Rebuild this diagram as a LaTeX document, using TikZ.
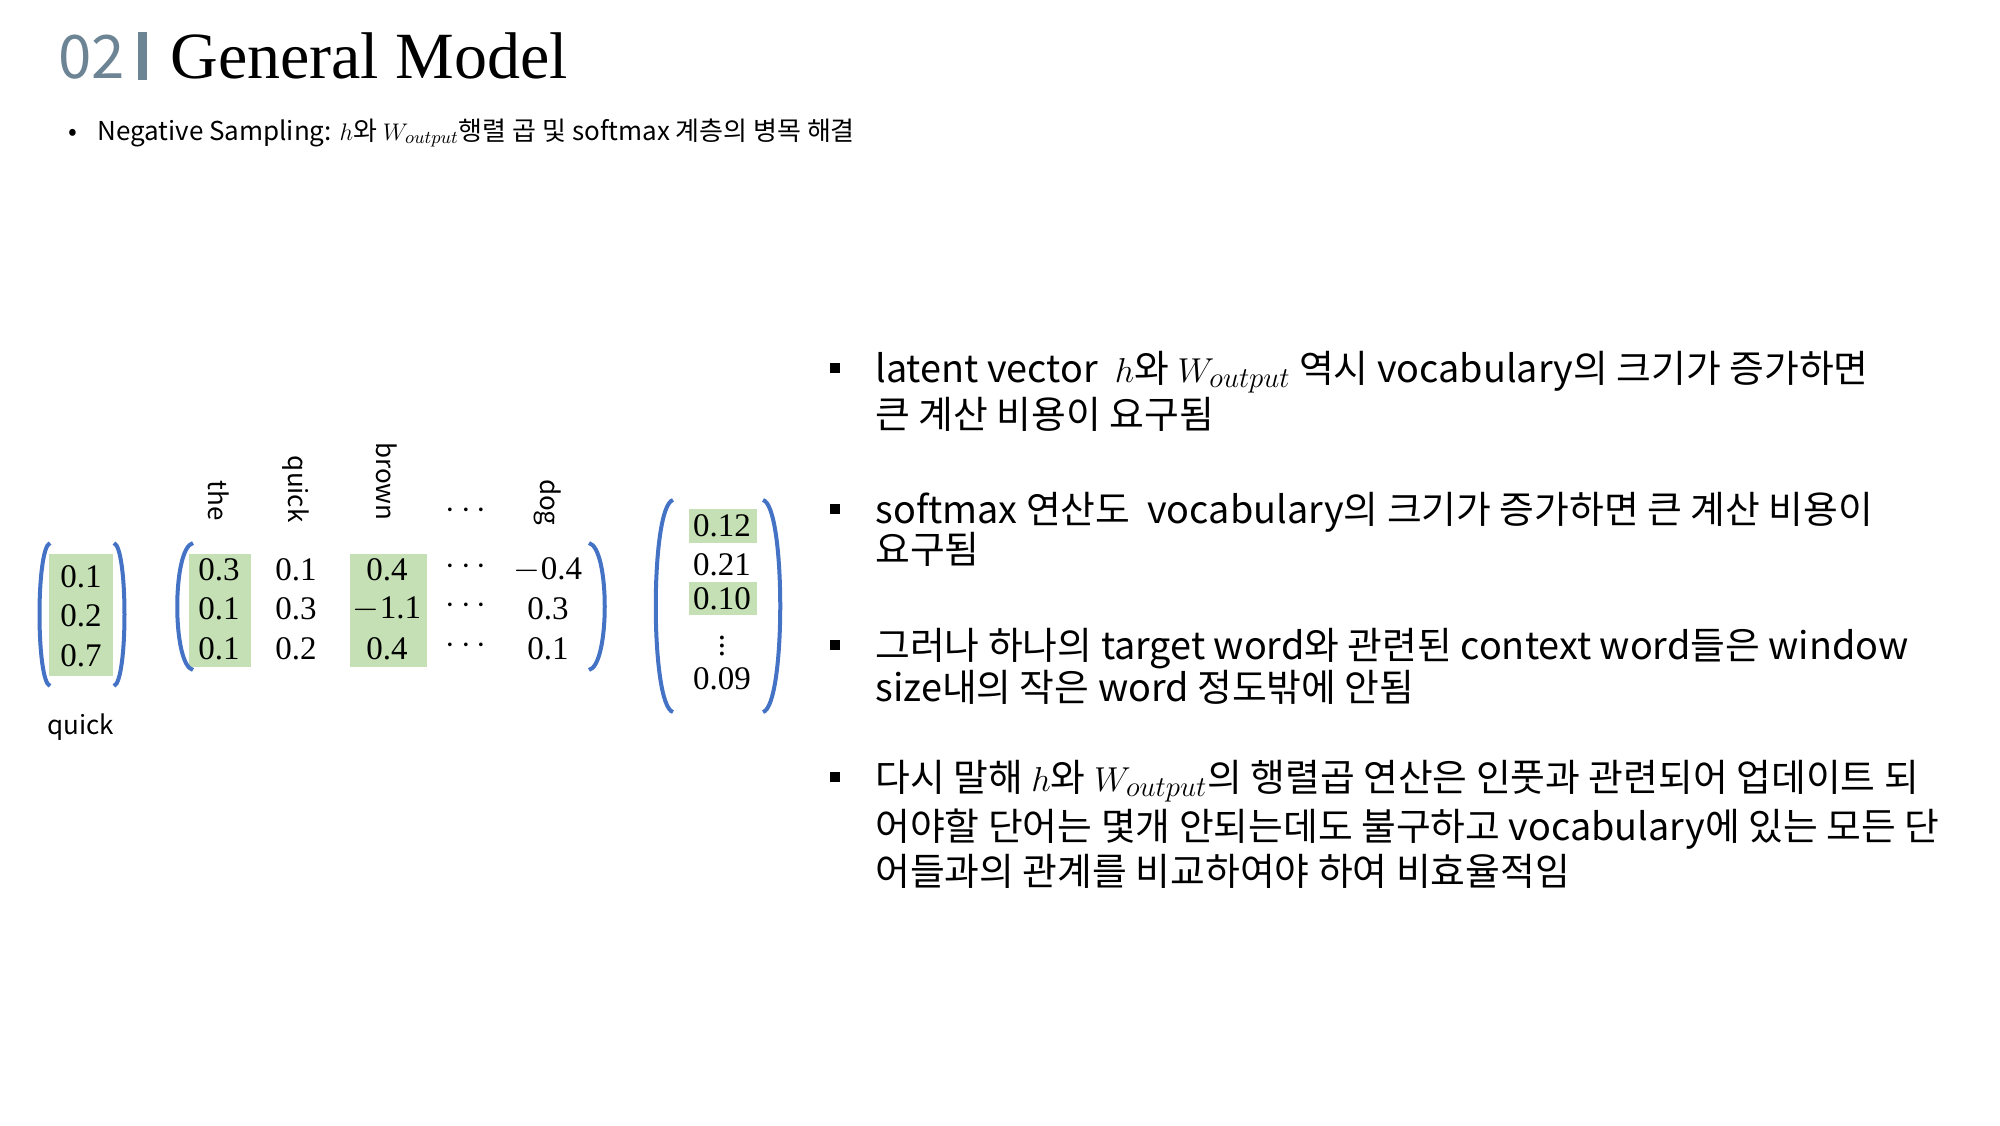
\documentclass[tikz,border=0pt]{standalone}
\usepackage{fontspec}
\setmainfont{Noto Sans CJK KR}
\newfontfamily\serifm{Liberation Serif}
\usetikzlibrary{calc}
\definecolor{brk}{HTML}{4472C4}
\definecolor{grn}{HTML}{C5E0B4}
\definecolor{ttl}{HTML}{6C8494}
\begin{document}
\begin{tikzpicture}[x=0.5pt,y=-0.5pt,
  num/.style={font=\serifm\fontsize{16.5}{16.5}\selectfont,inner sep=0pt,anchor=center},
  lbl/.style={font=\fontsize{13}{13}\selectfont,inner sep=0pt,rotate=-90,anchor=east},
  body/.style={font=\fontsize{18.9}{18.9}\selectfont,inner sep=0pt,anchor=base west},
  bul/.style={fill=black,inner sep=0pt,minimum size=5pt},
  brkl/.style={draw=brk,line width=2pt}]
\useasboundingbox (0,0) rectangle (2000,1125);
% title
\node[anchor=base west,inner sep=0pt,text=ttl,font=\fontsize{30}{30}\selectfont] (n02) at (58,78) {02};
\fill[ttl] (138,32) rectangle (147,80);
\node[anchor=base west,inner sep=0pt,font=\serifm\fontsize{33}{33}\selectfont] (ttl) at (170,78) {General Model};
\node[anchor=base west,inner sep=0pt,font=\fontsize{13}{13}\selectfont] (sub) at (68,140) {•\hspace{10pt}Negative Sampling: $h$와 $W_{output}$행렬 곱 및 softmax 계층의 병목 해결};
% green boxes
\fill[grn] (49,554) rectangle (113,676);
\fill[grn] (189,554) rectangle (251,667);
\fill[grn] (350,554) rectangle (427,667);
\fill[grn] (689,509) rectangle (757,543);
\fill[grn] (689,582) rectangle (757,615);
% left vector
\draw[brkl] (50,543) .. controls (36,548) and (36,681) .. (50,686);
\draw[brkl] (114,543) .. controls (128,548) and (128,681) .. (114,686);
\node[num] (a1) at (81,577) {0.1};
\node[num] (a2) at (81,616) {0.2};
\node[num] (a3) at (81,656) {0.7};
\node[font=\fontsize{13}{13}\selectfont,inner sep=0pt] (q) at (81,727) {quick};
% middle matrix
\draw[brkl] (193,543) .. controls (172,548) and (172,665) .. (193,670);
\draw[brkl] (589,543) .. controls (610,548) and (610,665) .. (589,670);
\node[num] (m11) at (219,570) {0.3};
\node[num] (m21) at (219,609) {0.1};
\node[num] (m31) at (219,649) {0.1};
\node[num] (m12) at (296,570) {0.1};
\node[num] (m22) at (296,609) {0.3};
\node[num] (m32) at (296,649) {0.2};
\node[num] (m13) at (387,570) {0.4};
\node[num] (m23) at (387,609) {$-$1.1};
\node[num] (m33) at (387,649) {0.4};
\node[num] (m14) at (466,567) {$\cdots$};
\node[num] (m24) at (466,606) {$\cdots$};
\node[num] (m34) at (466,646) {$\cdots$};
\node[num] (m15) at (548,570) {$-$0.4};
\node[num] (m25) at (548,609) {0.3};
\node[num] (m35) at (548,649) {0.1};
\node[lbl] (l1) at (219,521) {the};
\node[lbl] (l2) at (296,523) {quick};
\node[lbl] (l3) at (387,521) {brown};
\node[num] (l4) at (466,511) {$\cdots$};
\node[lbl] (l5) at (548,526) {dog};
% right vector
\draw[brkl] (673,500) .. controls (650,506) and (650,706) .. (673,712);
\draw[brkl] (763,500) .. controls (786,506) and (786,706) .. (763,712);
\node[num] (r1) at (722,526) {0.12};
\node[num] (r2) at (722,565) {0.21};
\node[num] (r3) at (722,599) {0.10};
\node[num] (r4) at (722,640) {$\vdots$};
\node[num] (r5) at (722,679) {0.09};
% bullets
\node[bul] (b1) at (835,368) {};
\node[bul] (b2) at (835,509) {};
\node[bul] (b3) at (835,645) {};
\node[bul] (b4) at (835,777) {};
\node[body] (t11) at (875,382) {latent vector\ \ $h$와 $W_{output}$\ 역시 vocabulary의 크기가 증가하면};
\node[body] (t12) at (875,428) {큰 계산 비용이 요구됨};
\node[body] (t21) at (875,523) {softmax 연산도\ \ vocabulary의 크기가 증가하면 큰 계산 비용이};
\node[body] (t22) at (875,563) {요구됨};
\node[body] (t31) at (875,659) {그러나 하나의 target word와 관련된 context word들은 window};
\node[body] (t32) at (875,701) {size내의 작은 word 정도밖에 안됨};
\node[body] (t41) at (875,791) {다시 말해 $h$와 $W_{output}$의 행렬곱 연산은 인풋과 관련되어 업데이트 되};
\node[body] (t42) at (875,840) {어야할 단어는 몇개 안되는데도 불구하고 vocabulary에 있는 모든 단};
\node[body] (t43) at (875,885) {어들과의 관계를 비교하여야 하여 비효율적임};
\end{tikzpicture}
\end{document}
